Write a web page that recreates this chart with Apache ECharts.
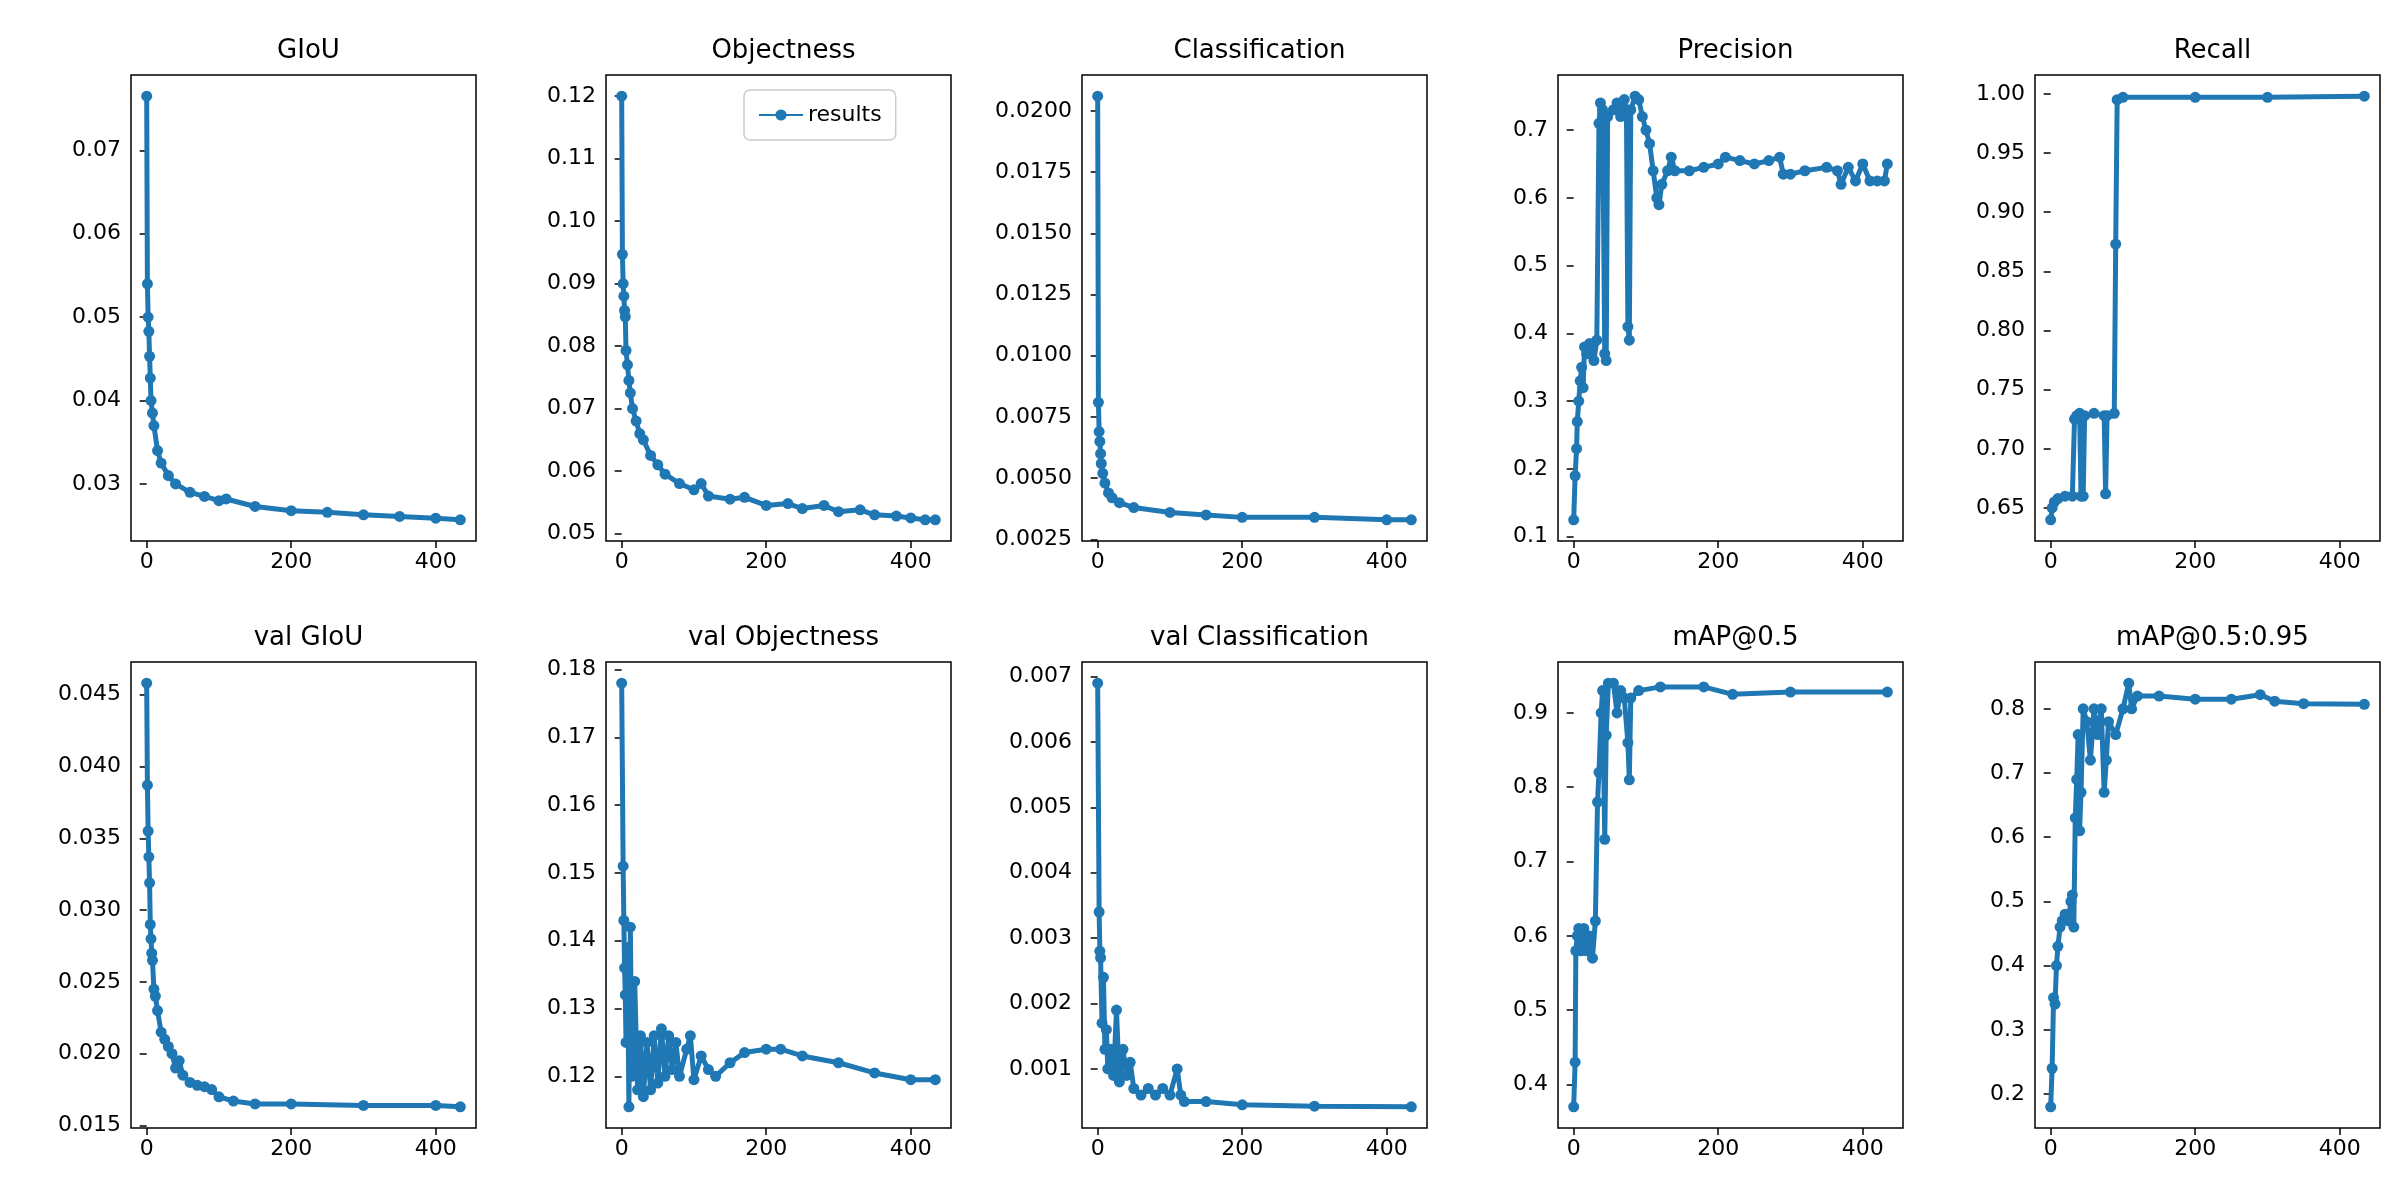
<!DOCTYPE html>
<html><head><meta charset="utf-8">
<script src="https://cdn.jsdelivr.net/npm/echarts@6/dist/echarts.min.js"></script>
<style>html,body{margin:0;padding:0;background:#fff}#c{width:2400px;height:1200px}</style>
</head><body><div id="c"></div>
<script>
const titles = ["GIoU","Objectness","Classification","Precision","Recall","val GIoU","val Objectness","val Classification","mAP@0.5","mAP@0.5:0.95"];

const giouX = [0,1,2,3,4,5,6,8,10,15,20,30,40,60,80,100,110,150,200,250,300,350,400,434];
const giouY = [0.0765,0.054,0.050,0.0483,0.0453,0.0427,0.040,0.0385,0.037,0.034,0.0325,0.031,0.030,0.0290,0.0285,0.0280,0.0282,0.0273,0.0268,0.0266,0.0263,0.0261,0.0259,0.0257];

const objX = [0,1,2,3,4,5,6,8,10,12,15,20,25,30,40,50,60,80,100,110,120,150,170,200,230,250,280,300,330,350,380,400,420,434];
const objY = [0.120,0.0947,0.090,0.088,0.0857,0.0847,0.0793,0.077,0.0745,0.0725,0.070,0.068,0.066,0.065,0.0625,0.061,0.0595,0.058,0.057,0.058,0.056,0.0555,0.0558,0.0545,0.0548,0.054,0.0545,0.0535,0.0538,0.053,0.0528,0.0525,0.0522,0.0522];

const clsX = [0,1,2,3,4,5,7,10,15,20,30,50,100,150,200,300,400,434];
const clsY = [0.0206,0.0081,0.0069,0.0065,0.0060,0.0056,0.0052,0.0048,0.0044,0.0042,0.0040,0.0038,0.0036,0.0035,0.0034,0.0034,0.0033,0.0033];

const precX = [0,2,4,5,7,9,11,13,15,18,22,28,32,35,37,40,43,45,47,55,60,65,70,73,75,77,79,85,90,95,100,105,110,115,118,122,130,135,140,160,180,200,210,230,250,270,285,290,300,320,350,365,370,380,390,400,410,420,430,434];
const precY = [0.125,0.19,0.23,0.27,0.30,0.33,0.35,0.32,0.38,0.37,0.385,0.36,0.39,0.71,0.74,0.73,0.37,0.36,0.72,0.73,0.74,0.72,0.745,0.73,0.41,0.39,0.73,0.75,0.745,0.72,0.70,0.68,0.64,0.60,0.59,0.62,0.64,0.66,0.64,0.64,0.645,0.65,0.66,0.655,0.65,0.655,0.66,0.635,0.635,0.64,0.645,0.64,0.62,0.645,0.625,0.65,0.625,0.625,0.625,0.65];

const recX = [0,2,5,10,20,30,33,36,40,42,45,47,60,74,76,78,88,90,92,100,200,300,434];
const recY = [0.64,0.65,0.655,0.658,0.66,0.66,0.725,0.728,0.73,0.66,0.66,0.728,0.73,0.728,0.662,0.728,0.73,0.873,0.995,0.997,0.997,0.997,0.998];

const vgiouX = [0,1,2,3,4,5,6,7,8,10,12,15,20,25,30,35,40,45,50,60,70,80,90,100,120,150,200,300,400,434];
const vgiouY = [0.0458,0.0387,0.0355,0.0337,0.0319,0.029,0.028,0.027,0.0265,0.0245,0.024,0.023,0.0215,0.021,0.0205,0.020,0.019,0.0195,0.0185,0.018,0.0178,0.0177,0.0175,0.017,0.0167,0.0165,0.0165,0.0164,0.0164,0.0163];

const vobjX = [0,2,3,4,5,6,8,10,12,14,18,22,26,30,35,40,45,50,55,60,65,70,75,80,90,95,100,110,120,130,150,170,200,220,250,300,350,400,434];
const vobjY = [0.178,0.151,0.143,0.136,0.132,0.125,0.139,0.1155,0.142,0.120,0.134,0.118,0.126,0.117,0.125,0.118,0.126,0.119,0.127,0.120,0.126,0.121,0.125,0.120,0.124,0.126,0.1195,0.123,0.121,0.120,0.122,0.1235,0.124,0.124,0.123,0.122,0.1205,0.1195,0.1195];

const vclsX = [0,2,3,4,6,8,10,12,14,18,22,26,30,35,40,45,50,60,70,80,90,100,110,115,120,150,200,300,434];
const vclsY = [0.0069,0.0034,0.0028,0.0027,0.0017,0.0024,0.0013,0.0016,0.0010,0.0013,0.0009,0.0019,0.0008,0.0013,0.0009,0.0011,0.0007,0.0006,0.0007,0.0006,0.0007,0.0006,0.0010,0.0006,0.0005,0.0005,0.00045,0.00043,0.00042];

const map5X = [0,2,3,5,7,10,14,18,22,26,30,33,35,38,40,43,45,48,55,60,65,70,75,77,79,90,120,180,220,300,434];
const map5Y = [0.37,0.43,0.58,0.60,0.61,0.58,0.61,0.58,0.60,0.57,0.62,0.78,0.82,0.90,0.93,0.73,0.87,0.94,0.94,0.90,0.93,0.92,0.86,0.81,0.92,0.93,0.935,0.935,0.925,0.928,0.928];

const map95X = [0,2,4,6,8,10,13,16,20,24,28,30,32,34,36,38,40,42,45,50,55,60,65,70,74,77,80,90,100,108,112,120,150,200,250,290,310,350,434];
const map95Y = [0.18,0.24,0.35,0.34,0.40,0.43,0.46,0.47,0.48,0.47,0.50,0.51,0.46,0.63,0.69,0.76,0.61,0.67,0.80,0.78,0.72,0.80,0.76,0.80,0.67,0.72,0.78,0.76,0.80,0.84,0.80,0.82,0.82,0.815,0.815,0.822,0.812,0.808,0.807];

const xTicks = [0,200,400];
const yTicks = [
  [0.03,0.04,0.05,0.06,0.07],
  [0.05,0.06,0.07,0.08,0.09,0.10,0.11,0.12],
  [0.0025,0.005,0.0075,0.01,0.0125,0.015,0.0175,0.02],
  [0.1,0.2,0.3,0.4,0.5,0.6,0.7],
  [0.65,0.70,0.75,0.80,0.85,0.90,0.95,1.00],
  [0.015,0.020,0.025,0.030,0.035,0.040,0.045],
  [0.12,0.13,0.14,0.15,0.16,0.17,0.18],
  [0.001,0.002,0.003,0.004,0.005,0.006,0.007],
  [0.4,0.5,0.6,0.7,0.8,0.9],
  [0.2,0.3,0.4,0.5,0.6,0.7,0.8]
];
const decimals = [2,2,4,1,2,3,2,3,1,1];

const xs = [giouX,objX,clsX,precX,recX,vgiouX,vobjX,vclsX,map5X,map95X];
const ys = [giouY,objY,clsY,precY,recY,vgiouY,vobjY,vclsY,map5Y,map95Y];

const colLeft = [131,606,1082,1558,2035];
const W = 345, rowTop = [75,662], H = 466;
const grids=[], xAxes=[], yAxes=[], series=[], titleArr=[];
for (let i=0;i<10;i++){
  const r = Math.floor(i/5), c = i%5;
  grids.push({left:colLeft[c], top:rowTop[r], width:W, height:H, show:true, borderColor:'#000', borderWidth:1.5, backgroundColor:'transparent'});
  const xv = xs[i], yv = ys[i];
  const xmin=Math.min(...xv), xmax=Math.max(...xv), ymin=Math.min(...yv), ymax=Math.max(...yv);
  const xm=(xmax-xmin)*0.05, ym=(ymax-ymin)*0.05;
  const tickStyle = {show:true, length:7, inside:false, lineStyle:{color:'#000',width:1.5}};
  xAxes.push({gridIndex:i, type:'value', min:xmin-xm, max:xmax+xm,
    axisLine:{show:false}, splitLine:{show:false},
    axisTick:Object.assign({customValues:xTicks},tickStyle),
    axisLabel:{customValues:xTicks, color:'#000', fontSize:22, fontFamily:'DejaVu Sans', margin:10, formatter:v=>String(Math.round(v))}});
  const d = decimals[i];
  yAxes.push({gridIndex:i, type:'value', min:ymin-ym, max:ymax+ym,
    axisLine:{show:false}, splitLine:{show:false},
    axisTick:Object.assign({customValues:yTicks[i]},tickStyle),
    axisLabel:{customValues:yTicks[i], color:'#000', fontSize:22, fontFamily:'DejaVu Sans', margin:10, formatter:v=>v.toFixed(d)}});
  series.push({name:'results', type:'line', xAxisIndex:i, yAxisIndex:i,
    data:xv.map((x,k)=>[x,yv[k]]), symbol:'circle', symbolSize:11, showSymbol:true,
    lineStyle:{width:5,color:'#1f77b4'}, itemStyle:{color:'#1f77b4'}, animation:false});
  titleArr.push({text:titles[i], left:colLeft[c]+W/2, top:rowTop[r]-42, textAlign:'center',
    textStyle:{fontSize:26, fontWeight:'normal', color:'#000', fontFamily:'DejaVu Sans'}});
}
const chart = echarts.init(document.getElementById('c'));
chart.setOption({
  animation:false, backgroundColor:'#fff',
  title:titleArr, grid:grids, xAxis:xAxes, yAxis:yAxes, series:series,
  legend:{data:['results'], left:744, top:90, orient:'vertical', padding:[14,14,14,14],
    borderColor:'#ccc', borderWidth:1.5, borderRadius:6, backgroundColor:'#fff',
    itemWidth:44, itemHeight:14, textStyle:{fontSize:22, color:'#000', fontFamily:'DejaVu Sans'}}
});
</script></body></html>
